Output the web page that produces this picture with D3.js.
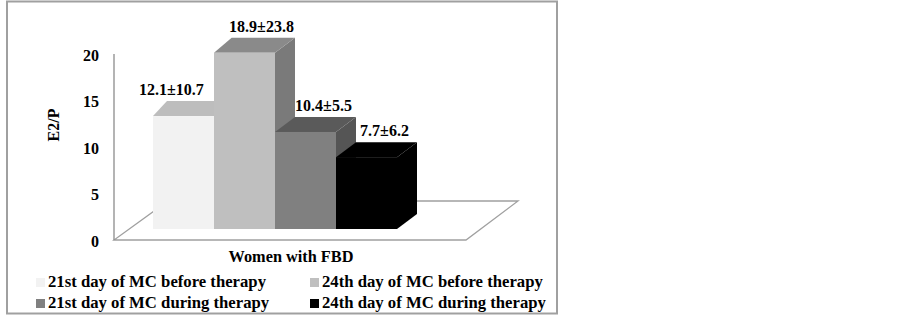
<!DOCTYPE html>
<html><head><meta charset="utf-8">
<script src="https://cdn.jsdelivr.net/npm/d3@7"></script>
<style>body{margin:0;background:#fff;} svg{display:block;} text{font-family:"Liberation Serif","Times New Roman",serif;font-weight:bold;fill:#000;}</style>
</head><body><svg id="c" width="903" height="316"></svg>
<script>
const category = "Women with FBD";
const series = ["21st day of MC before therapy","24th day of MC before therapy","21st day of MC during therapy","24th day of MC during therapy"];
const means = [12.1, 18.9, 10.4, 7.7];
const sds = [10.7, 23.8, 5.5, 6.2];
const yTicks = [0, 5, 10, 15, 20];
const yTitle = "E2/P";

const fronts = ["#f2f2f2","#bfbfbf","#808080","#000000"];
const tops   = ["#bdbdbd","#8a8a8a","#5a5a5a","#000000"];
const sides  = ["#a6a6a6","#7a7a7a","#555555","#000000"];

const svg = d3.select("#c");
// outer border
svg.append("rect").attr("x",7).attr("y",1.5).attr("width",550).attr("height",312)
  .attr("fill","#fff").attr("stroke","#a0a0a0").attr("stroke-width",2);

const yFront = d3.scaleLinear().domain([0,20]).range([240,54]);
const yBar = d3.scaleLinear().domain([0,20]).range([229,229-186.6]);
const xBand = d3.scaleBand().domain(series).range([153,397]);
const dyD = -15;
const dxD = x => Math.min(20, 14 + (x-153)*0.06);

// floor
const fl = 114, fr = 466, fy = 240;
svg.append("polygon")
  .attr("points", [[fl,fy],[fr,fy],[fr+52,fy-39],[fl+54,fy-39]].map(p=>p.join(",")).join(" "))
  .attr("fill","#fff").attr("stroke","#a0a0a0").attr("stroke-width",1.3);
// vertical axis line
svg.append("line").attr("x1",114).attr("x2",114).attr("y1",yFront(20)).attr("y2",yFront(0))
  .attr("stroke","#8c8c8c").attr("stroke-width",1.3);

// tick labels
svg.selectAll("text.tick").data(yTicks).join("text").attr("class","tick")
  .attr("x",99).attr("y",d=>yFront(d)+1).attr("dy","0.35em").attr("text-anchor","end")
  .style("font-size","16px").text(d=>d);

// y title
svg.append("text").attr("transform","translate(59,125) rotate(-90)").attr("text-anchor","middle")
  .style("font-size","16px").text(yTitle);

// bars
const labelNudge = [-21, 7, 8, 8];
series.forEach((s,i)=>{
  const x0 = xBand(s), x1 = x0 + xBand.bandwidth();
  const yb = yBar(0), yt = yBar(means[i]);
  const d0 = dxD(x0), d1 = dxD(x1);
  const g = svg.append("g");
  g.append("polygon").attr("points",[[x1,yb],[x1+d1,yb+dyD],[x1+d1,yt+dyD],[x1,yt]].map(p=>p.join(",")).join(" "))
    .attr("fill",sides[i]);
  g.append("polygon").attr("points",[[x0,yt],[x1,yt],[x1+d1,yt+dyD],[x0+d0,yt+dyD]].map(p=>p.join(",")).join(" "))
    .attr("fill",tops[i]);
  g.append("rect").attr("x",x0).attr("y",yt).attr("width",x1-x0).attr("height",yb-yt).attr("fill",fronts[i]);
});
series.forEach((s,i)=>{
  const x0 = xBand(s), x1 = x0 + xBand.bandwidth();
  const yt = yBar(means[i]);
  const cx = (x0+x1)/2 + dxD(x1)/2 + labelNudge[i];
  svg.append("text").attr("x",cx).attr("y",yt+dyD-6).attr("text-anchor","middle")
    .style("font-size","16px").text(`${means[i]}±${sds[i]}`);
});

// x category label
svg.append("text").attr("x",291).attr("y",262).attr("text-anchor","middle").style("font-size","16.3px").text(category);

// legend
const legPos = [[36,278],[310,278],[36,299],[310,299]];
series.forEach((s,i)=>{
  const [lx,ly] = legPos[i];
  svg.append("rect").attr("x",lx).attr("y",ly).attr("width",9).attr("height",9).attr("fill",fronts[i]);
  svg.append("text").attr("x",lx+12).attr("y",ly+8.5).style("font-size","16.7px").text(s);
});
</script></body></html>
